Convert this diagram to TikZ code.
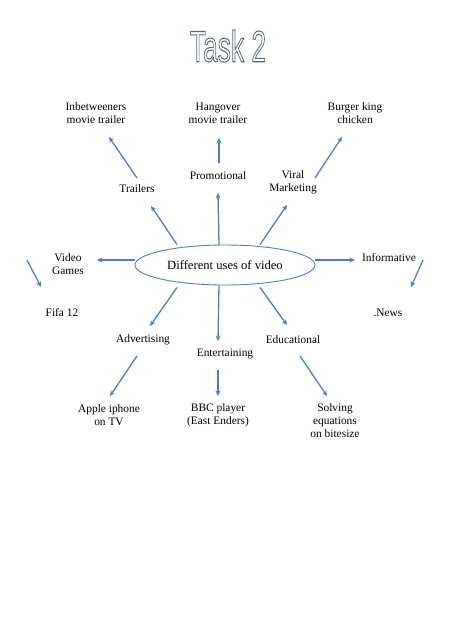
\documentclass[tikz,border=0pt]{standalone}
\usepackage{fontspec}
\setmainfont{Liberation Serif}
\newfontfamily\titlefont{Liberation Sans}
\usepackage{xcolor}
\usetikzlibrary{arrows.meta,shapes.geometric}

\definecolor{arrblue}{HTML}{4F7FBA}
% outlined title letters (stroke only)
\newcommand{\outlinetext}[1]{\special{pdf:code q 1 Tr 1.1 w 0.34 0.40 0.48 RG}#1\special{pdf:code Q}}

\begin{document}
\begin{tikzpicture}[
  x=1pt, y=-1pt,
  font=\fontsize{11.4}{13}\selectfont,
  lbl/.style={align=center, inner sep=1pt},
  hub/.style={draw=arrblue, line width=0.9pt, ellipse, minimum width=180pt,
              minimum height=40pt, inner sep=0pt,
              font=\fontsize{12.6}{14}\selectfont},
  arr/.style={draw=arrblue, line width=1.3pt, -{Stealth[length=5.5pt,width=5pt]}}
]
\useasboundingbox (0,0) rectangle (452,640);

% title
\node (title) at (228,46) {\scalebox{0.6}[1]{\titlefont\fontsize{44}{44}\selectfont
  \outlinetext{Task 2}}};

% centre
\node[hub] (ctr) at (225,265) {Different uses of video};

% first ring
\node[lbl] (trail) at (137,189) {Trailers};
\node[lbl] (promo) at (218,176) {Promotional};
\node[lbl] (viral) at (293,182) {Viral\\Marketing};
\node[lbl] (games) at (68,264)  {Video\\Games};
\node[lbl] (info)  at (389,258) {Informative};
\node[lbl] (adv)   at (143,340) {Advertising};
\node[lbl] (ent)   at (225,354) {Entertaining};
\node[lbl] (edu)   at (293,340) {Educational};

% examples
\node[lbl] (inbet)  at (96,113)  {Inbetweeners\\movie trailer};
\node[lbl] (hang)   at (218,113) {Hangover\\movie trailer};
\node[lbl] (burger) at (355,113) {Burger king\\chicken};
\node[lbl] (fifa)   at (62,313)  {Fifa 12};
\node[lbl] (news)   at (388,313) {.News};
\node[lbl] (apple)  at (109,415) {Apple iphone\\on TV};
\node[lbl] (bbc)    at (218,415) {BBC player\\(East Enders)};
\node[lbl] (solve)  at (335,421) {Solving\\equations\\on bitesize};

% centre to uses
\draw[arr] ([shift={(-48,0)}]ctr.north) -- ([shift={(14,17)}]trail.center);
\draw[arr] ([shift={(-6,0)}]ctr.north)  -- ([shift={(0,17)}]promo.center);
\draw[arr] ([shift={(35,0)}]ctr.north)  -- ([shift={(-6,23)}]viral.center);
\draw[arr] ([shift={(0,-5)}]ctr.west)   -- ([shift={(29,-4)}]games.center);
\draw[arr] ([shift={(0,-5)}]ctr.east)   -- ([shift={(-34,2)}]info.center);
\draw[arr] ([shift={(-48,2)}]ctr.south) -- ([shift={(7,-14)}]adv.center);
\draw[arr] ([shift={(-6,0)}]ctr.south)  -- ([shift={(-7,-13)}]ent.center);
\draw[arr] ([shift={(35,2)}]ctr.south)  -- ([shift={(-6,-15)}]edu.center);

% uses to examples
\draw[arr] ([shift={(0,-11)}]trail.center) -- ([shift={(13,24)}]inbet.center);
\draw[arr] ([shift={(1,-13)}]promo.center) -- ([shift={(1,25)}]hang.center);
\draw[arr] ([shift={(22,-4)}]viral.center) -- ([shift={(-13,24)}]burger.center);
\draw[arr] ([shift={(-41,-4)}]games.center) -- ([shift={(-21,-26)}]fifa.center);
\draw[arr] ([shift={(34,2)}]info.center)   -- ([shift={(23,-26)}]news.center);
\draw[arr] ([shift={(-6,16)}]adv.center)   -- ([shift={(1,-19)}]apple.center);
\draw[arr] ([shift={(-7,16)}]ent.center)   -- ([shift={(0,-19)}]bbc.center);
\draw[arr] ([shift={(7,16)}]edu.center)    -- ([shift={(-8,-25)}]solve.center);
\end{tikzpicture}
\end{document}
